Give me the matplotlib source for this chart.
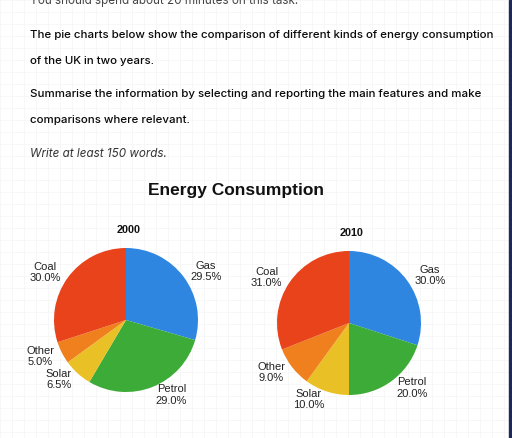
import numpy as np
import matplotlib.pyplot as plt
from matplotlib.patches import Rectangle

W, H = 512, 438

sources = ["Gas", "Petrol", "Solar", "Other", "Coal"]
share_2000 = [29.5, 29.0, 6.5, 5.0, 30.0]
share_2010 = [30.0, 20.0, 10.0, 9.0, 31.0]
colors = ["#2f86e0", "#3dab37", "#e9c126", "#ef801d", "#e8431a"]

intro = "You should spend about 20 minutes on this task."
task_lines = [
    "The pie charts below show the comparison of different kinds of energy consumption",
    "of the UK in two years.",
    "Summarise the information by selecting and reporting the main features and make",
    "comparisons where relevant.",
]
note = "Write at least 150 words."


def px(x, y):
    return x / W, 1 - y / H


fig = plt.figure(figsize=(W / 100, H / 100), dpi=100)
fig.patch.set_facecolor("white")

# faint graph-paper background
bg = fig.add_axes([0, 0, 1, 1])
bg.set_xlim(0, W)
bg.set_ylim(H, 0)
for g in np.arange(0, W, 12):
    bg.axvline(g, color="#f6f6f6", lw=0.6, zorder=0)
for g in np.arange(0, H, 12):
    bg.axhline(g, color="#f6f6f6", lw=0.6, zorder=0)
bg.axis("off")
fig.patches.append(Rectangle(px(509, H), 3 / W, 1, transform=fig.transFigure,
                             color="#1c2a55", zorder=5))

fig.text(*px(30, 1), intro, fontsize=8.4, color="#444444", family="Inter", va="center")
ys = [35, 61, 94, 120]
for y, line in zip(ys, task_lines):
    fig.text(*px(30, y), line, fontsize=8.25, color="#0a0a0a", family="Inter",
             weight="medium", va="center")
fig.text(*px(30, 154), note, fontsize=8.4, color="#333333", family="Inter",
         style="italic", va="center")

fig.text(*px(236, 190), "Energy Consumption", fontsize=12.5, weight="bold",
         family="Liberation Sans", ha="center", va="center", color="#111111")


def draw_pie(cx, cy, r, values, year, title_y):
    ax = fig.add_axes([(cx - r) / W, 1 - (cy + r) / H, 2 * r / W, 2 * r / H])
    labels = [f"{s}\n{v:.1f}%" for s, v in zip(sources, values)]
    wedges, texts = ax.pie(values, colors=colors, startangle=90, counterclock=False,
                           labels=labels, labeldistance=1.12,
                           wedgeprops=dict(linewidth=0),
                           textprops=dict(fontsize=8, family="Liberation Sans",
                                          color="#222222", multialignment="center"))
    ax.set_xlim(-1, 1)
    ax.set_ylim(-1, 1)
    for t in texts:
        t.set_clip_on(False)
    fig.text(*px(cx + 3, title_y), year, fontsize=7.8, weight="bold",
             family="Liberation Sans", ha="center", va="center", color="#111111")


draw_pie(126, 320, 72, share_2000, "2000", 230)
draw_pie(349, 323, 72, share_2010, "2010", 233)

fig.savefig("out.png", dpi=100)
